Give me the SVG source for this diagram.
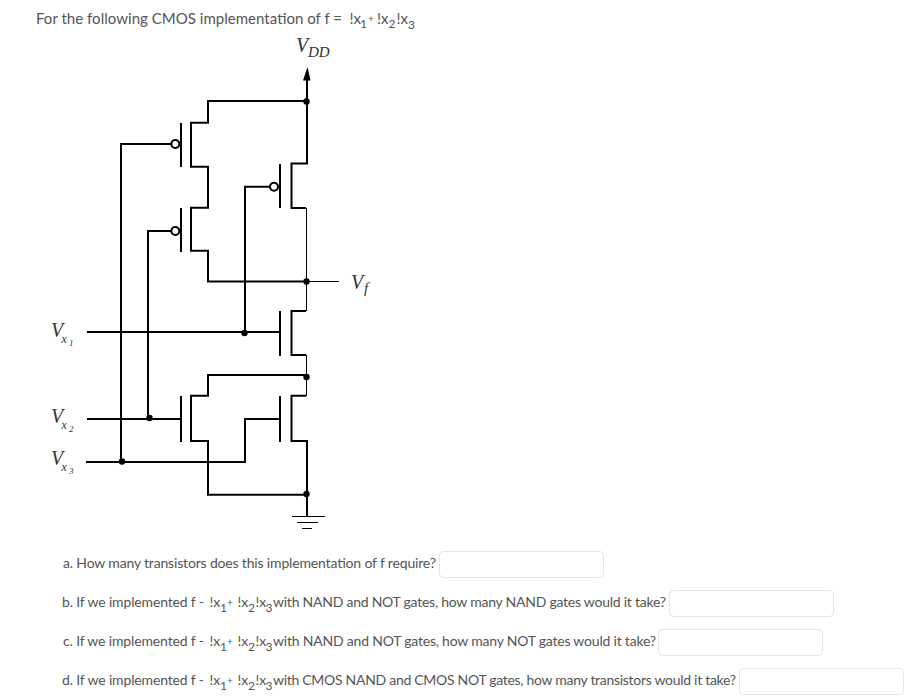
<svg xmlns="http://www.w3.org/2000/svg" width="917" height="700" viewBox="0 0 917 700">
<style>
.t{font-family:"Lato","Open Sans",sans-serif;font-size:14px;fill:#555}
.h{font-size:15px}
.p{font-size:10px}
.s{font-size:12px}
.w{fill:none;stroke:#000;stroke-width:2}
.n{fill:none;stroke:#000;stroke-width:1}
.b{fill:#fff;stroke:#000;stroke-width:2}
.d{fill:#000}
.v{font-family:"Liberation Serif","Times New Roman",serif;font-style:italic;fill:#333}
.box{fill:#fff;stroke:#e5e5e5;stroke-width:1}
</style>
<rect width="917" height="700" fill="#fff"/>
<g id="heading">
<text class="t h" x="36" y="23.500" textLength="306" lengthAdjust="spacing">For the following CMOS implementation of f =</text>
<text class="t h" x="349.500" y="23.500">!x</text><text class="t s" x="360" y="28">1</text><text class="t p" x="368" y="21.500">+</text>
<text class="t h" x="377" y="23.500">!x</text><text class="t s" x="388.500" y="28">2</text>
<text class="t h" x="396.500" y="23.500">!x</text><text class="t s" x="408" y="29">3</text>
</g>
<g id="connectors">
<path class="w" d="M307 80V163.500H291.500V208H306"/>
<path class="w" d="M307 101H208V122.700H191V166.700H208V207.700H191V250.700H208V281.500H307"/>
<path class="n" d="M306.500 208V311M306.500 355V396M307 281.500H339"/>
<path class="w" d="M121 461.500V144H171"/>
<path class="w" d="M148 419V231H171"/>
<path class="w" d="M245 333V186.700H270"/>
<path class="w" d="M87 332H280"/>
<path class="w" d="M87 419H181"/>
<path class="w" d="M86 462H245V419H280"/>
<path class="w" d="M306 311H291.500V355H306"/>
<path class="w" d="M307 375H208V395.700H191V441H208V494.700H307"/>
<path class="w" d="M306 395.700H291.500V441H307V516.500"/>
<path class="n" d="M292 516.500H325M297 522.500H318M302 528.500H312"/>
<path class="d" d="M307.500 67L303 80.500H310.500Z"/>
</g>
<g id="gates">
<path class="w" d="M181 123V167M181 208V252M280 164V208M280 311V356M181 396V442M280 396V442"/>
</g>
<g id="bubbles">
<circle class="b" cx="175.300" cy="144" r="4"/>
<circle class="b" cx="175.300" cy="231" r="4"/>
<circle class="b" cx="274" cy="186.700" r="4"/>
</g>
<g id="junctions">
<circle class="d" cx="306.500" cy="101.500" r="3.200"/>
<circle class="d" cx="306.500" cy="281.500" r="3.200"/>
<circle class="d" cx="244.500" cy="333" r="3.200"/>
<circle class="d" cx="306.500" cy="377" r="3.200"/>
<circle class="d" cx="149.500" cy="418" r="3.200"/>
<circle class="d" cx="122" cy="461.500" r="3.200"/>
<circle class="d" cx="306.500" cy="494" r="3.200"/>
</g>
<g id="labels">
<text class="v" x="296" y="52" font-size="20">V</text><text class="v" x="308" y="57" font-size="15">DD</text>
<text class="v" x="351" y="289" font-size="20">V</text><text class="v" x="364" y="293" font-size="15">f</text>
<text class="v" x="51" y="337" font-size="20">V</text><text class="v" x="61.500" y="343" font-size="12">x</text><text class="v" x="69" y="346" font-size="9">1</text>
<text class="v" x="51" y="423" font-size="20">V</text><text class="v" x="61.500" y="429" font-size="12">x</text><text class="v" x="69" y="432" font-size="9">2</text>
<text class="v" x="51" y="465" font-size="20">V</text><text class="v" x="61.500" y="471" font-size="12">x</text><text class="v" x="69" y="474" font-size="9">3</text>
</g>
<g id="question-a">
<text class="t" x="63" y="568" textLength="373" lengthAdjust="spacing">a. How many transistors does this implementation of f require?</text>
<rect class="box" x="439.500" y="551.500" width="164" height="26" rx="4"/>
</g>
<g id="question-b">
<text class="t" x="62" y="607" textLength="142" lengthAdjust="spacing">b. If we implemented f -</text>
<text class="t" x="209.500" y="607">!x</text><text class="t s" x="220" y="611.500">1</text><text class="t p" x="227" y="605.500">+</text>
<text class="t" x="237.500" y="607">!x</text><text class="t s" x="248" y="611.500">2</text>
<text class="t" x="255.500" y="607">!x</text><text class="t s" x="265.500" y="612">3</text>
<text class="t" x="273" y="607" textLength="393" lengthAdjust="spacing">with NAND and NOT gates, how many NAND gates would it take?</text>
<rect class="box" x="669.500" y="590.500" width="164" height="26" rx="4"/>
</g>
<g id="question-c">
<text class="t" x="63" y="646" textLength="141" lengthAdjust="spacing">c. If we implemented f -</text>
<text class="t" x="209.500" y="646">!x</text><text class="t s" x="220" y="650.500">1</text><text class="t p" x="227" y="644.500">+</text>
<text class="t" x="237.500" y="646">!x</text><text class="t s" x="248" y="650.500">2</text>
<text class="t" x="255.500" y="646">!x</text><text class="t s" x="265.500" y="651">3</text>
<text class="t" x="273" y="646" textLength="383" lengthAdjust="spacing">with NAND and NOT gates, how many NOT gates would it take?</text>
<rect class="box" x="658.500" y="629.500" width="164" height="26" rx="4"/>
</g>
<g id="question-d">
<text class="t" x="62" y="685" textLength="142" lengthAdjust="spacing">d. If we implemented f -</text>
<text class="t" x="209.500" y="685">!x</text><text class="t s" x="220" y="689.500">1</text><text class="t p" x="227" y="683.500">+</text>
<text class="t" x="237.500" y="685">!x</text><text class="t s" x="248" y="689.500">2</text>
<text class="t" x="255.500" y="685">!x</text><text class="t s" x="265.500" y="690">3</text>
<text class="t" x="273" y="685" textLength="463" lengthAdjust="spacing">with CMOS NAND and CMOS NOT gates, how many transistors would it take?</text>
<rect class="box" x="739.500" y="668.500" width="164" height="26" rx="4"/>
</g>
</svg>
